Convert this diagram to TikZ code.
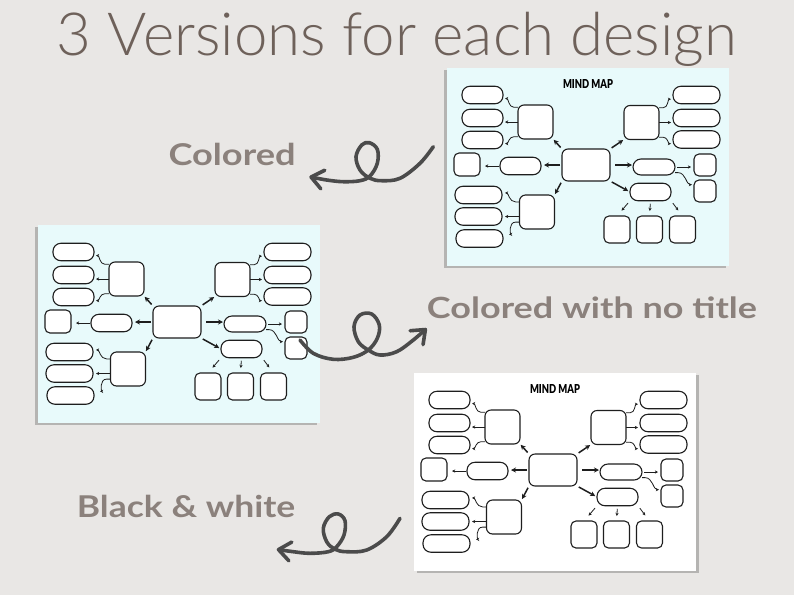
\documentclass[tikz,border=0pt]{standalone}
\usepackage{fontspec}
\usepackage{graphicx}
\setmainfont{Lato}
\IfFontExistsTF{Lato Light}{\newfontfamily\titlefont{Lato Light}}{\newfontfamily\titlefont{Lato}}
\IfFontExistsTF{Lato Black}{\newfontfamily\mapfont{Lato Black}}{\newfontfamily\mapfont{Lato}[UprightFont=*-Bold]}
\usetikzlibrary{arrows.meta,positioning,shadows}

\definecolor{pagebg}{HTML}{E9E7E5}
\definecolor{headcol}{HTML}{6E615A}
\definecolor{labelcol}{HTML}{8B817C}
\definecolor{curlcol}{HTML}{4B4B4B}
\definecolor{mapcyan}{HTML}{E8FAFB}
\definecolor{inkcol}{HTML}{1E1E1E}

\tikzset{
  pill/.style={draw=inkcol, line width=1.1pt, fill=white, rounded corners=8pt,
    minimum width=41pt, minimum height=17.5pt, inner sep=0pt, outer sep=0pt},
  widepill/.style={pill, minimum width=47pt},
  sqbox/.style={draw=inkcol, line width=1.1pt, fill=white, rounded corners=6pt,
    minimum width=35pt, minimum height=34pt, inner sep=0pt, outer sep=0pt},
  smallbox/.style={sqbox, rounded corners=5pt, minimum width=26pt, minimum height=26pt},
  hub/.style={sqbox, minimum width=48pt, minimum height=32pt},
  barr/.style={-{Stealth[length=5pt,width=5pt]}, line width=1.5pt, inkcol},
  tarr/.style={-{Stealth[length=3.2pt,width=3.2pt]}, line width=0.8pt, inkcol},
  panel/.style={fill=#1, minimum width=282pt, minimum height=198pt,
    inner sep=0pt, outer sep=0pt, anchor=north west},
  lshadow/.style={drop shadow={shadow xshift=-3pt, shadow yshift=-2pt, opacity=0.22, fill=black}},
  rshadow/.style={drop shadow={shadow xshift=3pt, shadow yshift=-2pt, opacity=0.22, fill=black}},
  mmtitle/.style={inner sep=0pt, font=\mapfont, text=black},
  tag/.style={inner sep=0pt, anchor=base west, font=\bfseries, text=labelcol},
  curl/.style={draw=curlcol, line width=3.6pt, line cap=round, line join=round,
    -{Straight Barb[length=12pt,width=19pt,round]}},
  pics/mindmap/.style 2 args={code={
    \node[panel=#1, #2] (-panel) at (0,0) {};
    % centre
    \node[hub] (-c) at (139,97) {};
    % upper left
    \node[sqbox] (-a) at (88.5,54) {};
    \node[pill] (-l1) at (35.5,27) {};
    \node[pill] (-l2) at (35.5,50) {};
    \node[pill] (-l3) at (35.5,72) {};
    % upper right
    \node[sqbox] (-b) at (194.5,54.5) {};
    \node[widepill] (-r1) at (249.5,27) {};
    \node[widepill] (-r2) at (249.5,50) {};
    \node[widepill] (-r3) at (249.5,71.5) {};
    % middle row
    \node[pill] (-m1) at (73.5,98) {};
    \node[smallbox, minimum height=23pt] (-s1) at (20,96.5) {};
    \node[pill, minimum height=16pt, minimum width=42pt] (-m2) at (207,99) {};
    \node[smallbox, minimum width=22pt, minimum height=22pt] (-s2) at (258,97) {};
    \node[smallbox, minimum width=22pt, minimum height=22pt] (-s3) at (258,123) {};
    % lower left
    \node[sqbox] (-d) at (90,144) {};
    \node[widepill] (-bl1) at (31.5,127) {};
    \node[widepill] (-bl2) at (31.5,148.5) {};
    \node[widepill] (-bl3) at (32.5,170.5) {};
    % lower right
    \node[pill] (-m3) at (203.5,124) {};
    \node[smallbox, minimum height=27pt] (-q1) at (170,161.5) {};
    \node[smallbox, minimum height=27pt] (-q2) at (202.5,161.5) {};
    \node[smallbox, minimum height=27pt] (-q3) at (235.5,161.5) {};
    % from the centre
    \draw[barr, shorten <=2pt, shorten >=1pt] (-c.north west) -- (-a.south east);
    \draw[barr, shorten <=2pt, shorten >=1pt] (-c.north east) -- (-b.south west);
    \draw[barr, shorten <=2pt, shorten >=1pt] (-c.south west) -- (-d.north east);
    \draw[barr, shorten <=2pt, shorten >=2pt] (-c.south east) -- (-m3.west);
    \draw[barr, shorten <=2pt, shorten >=3pt] (-c.west) -- (-c.west -| -m1.east);
    \draw[barr, shorten <=5pt, shorten >=1pt] (-c.east) -- (-c.east -| -m2.west);
    % small links
    \draw[tarr, shorten >=2pt] (-a.140) -- ++(-4,0) to[out=180,in=0] (-l1.-10);
    \draw[tarr, shorten >=2pt] (-a.west) -- (-a.west -| -l2.east);
    \draw[tarr, shorten >=2pt] (-a.-140) -- ++(-4,0) to[out=180,in=0] (-l3.-10);
    \draw[tarr, shorten >=2pt] (-b.40) -- ++(4,0) to[out=0,in=180] (-r1.190);
    \draw[tarr, shorten >=2pt] (-b.east) -- (-b.east -| -r2.west);
    \draw[tarr, shorten >=2pt] (-b.-40) -- ++(4,0) to[out=0,in=180] (-r3.190);
    \draw[tarr, shorten >=3pt] (-d.150) -- ++(-4,0) to[out=180,in=0] (-bl1.5);
    \draw[tarr, shorten >=3pt] (-bl2.east -| -d.west) -- (-bl2.east);
    \draw[tarr, shorten >=6pt] (-d.-150) -- ++(-4,0) to[out=180,in=0] (-bl3.10);
    \draw[tarr, shorten <=1pt, shorten >=5pt] (-m1.west) -- (-m1.west -| -s1.east);
    \draw[tarr, shorten <=2pt, shorten >=3pt] (-m2.east) -- (-m2.east -| -s2.west);
    \draw[tarr, shorten >=2pt] (-m2.-15) -- ++(3,0) to[out=0,in=180] (-s3.150);
    \draw[tarr, shorten <=3pt, shorten >=7pt] (-m3.south west) -- (-q1.north);
    \draw[tarr, shorten <=3pt, shorten >=5pt] (-m3.south) -- (-q2.north);
    \draw[tarr, shorten <=3pt, shorten >=7pt] (-m3.south east) -- (-q3.north);
  }}
}

\begin{document}
\begin{tikzpicture}[x=1pt,y=-1pt]
  \fill[pagebg] (0,0) rectangle (794,595);
  \useasboundingbox (0,0) rectangle (794,595);

  % the three sheets
  \pic (one) at (447,68) {mindmap={mapcyan}{lshadow}};
  \pic (two) at (38,225) {mindmap={mapcyan}{lshadow}};
  \pic (three) at (414,373) {mindmap={white}{rshadow}};
  \node[mmtitle, below=11.5pt of one-panel.north] (one-title) {\resizebox{50pt}{9pt}{MIND MAP}};
  \node[mmtitle, below=11.5pt of three-panel.north] (three-title) {\resizebox{50pt}{9pt}{MIND MAP}};

  % heading and tags
  \node[inner sep=0pt, anchor=base west, text=headcol, font=\titlefont] (head) at (56.7,55)
    {\resizebox{680pt}{43.3pt}{3 Versions for each design}};
  \node[tag] (colored) at (168.3,165) {\resizebox{127pt}{22.3pt}{Colored}};
  \node[tag] (notitle) at (426.7,318.3) {\resizebox{330pt}{21.7pt}{Colored with no title}};
  \node[tag] (bw) at (76.7,517.3) {\resizebox{218.3pt}{22.3pt}{Black \& white}};

  % curly arrows
  \draw[curl] plot[smooth, tension=0.6] coordinates {(433.3,146.7) (420,163.3) (400,178.3)
    (381.7,180.7) (370,178.3) (360,170) (356,156.7) (361.7,145) (369.3,142.7) (377.3,149.3)
    (377.3,163.3) (370,176) (360,180.7) (343.3,181.7) (326.7,180) (309.3,176.7)};
  \draw[curl] plot[smooth, tension=0.6] coordinates {(300,340) (313.3,353.3) (333.3,359.3)
    (353.3,357.3) (368.3,350) (377.3,338.3) (379.3,325) (371.7,314) (360,315) (354,326.7)
    (358.3,341.7) (368.3,350) (380,355) (396.7,351.7) (413.3,340) (426.7,328.3)};
  \draw[curl] plot[smooth, tension=0.6] coordinates {(400,518.3) (386.7,536.7) (366.7,550)
    (346.7,551.7) (335,549.3) (326.7,541.7) (323.3,528.3) (329.3,516.7) (338.3,514) (345,520.7)
    (344,535) (336.7,546.7) (328.3,551.7) (310,553.3) (293.3,551.7) (276.7,549.3)};
\end{tikzpicture}
\end{document}
